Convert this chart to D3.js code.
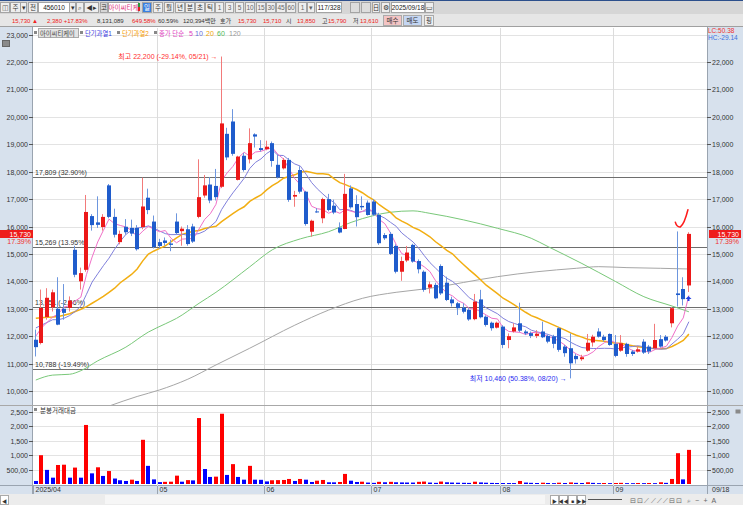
<!DOCTYPE html>
<html>
<head>
<meta charset="utf-8">
<script src="https://d3js.org/d3.v7.min.js"></script>
<style>
body { margin: 0; background: #fff; }
svg { display: block; font-family: "Liberation Sans", "Noto Sans CJK KR", sans-serif; }
</style>
</head>
<body>
<script>
var width = 743, height = 505;

// daily candles, 2025/04/01 .. 2025/09/18 (117 trading days)
var opens  = [11870,11750,12700,13050,13000,13000,13030,15150,14000,14420,16380,16150,15980,17500,16350,15430,15990,15950,15950,15980,
              17050,16180,15430,15490,15380,16180,15830,15900,16000,16350,17130,17530,17480,17450,19380,19830,17700,18580,18450,19360,
              18860,18820,19040,18250,18120,18430,17090,18060,17270,15810,16550,16300,17000,16760,15960,15910,17390,16820,16750,16870,
              16910,16420,15690,15730,15290,14350,14760,15330,14740,14350,13770,13870,14560,13950,13340,13200,13040,12960,12620,13340,
              12710,12490,12310,12350,11860,12170,12470,12170,12110,12010,12170,12010,11990,12290,11620,11560,11280,11160,11470,11770,
              12170,11980,12080,11720,11470,11720,11440,11440,11800,11620,11560,11890,11980,12470,13560,13720,13850];
var highs  = [12240,13700,13750,13700,14150,13900,13450,15300,14500,17150,16450,17100,16450,17550,16650,15850,16270,16250,16050,17780,
              17380,16400,15550,15600,15520,16480,16000,16050,16100,18450,17880,17800,18100,22200,19600,20280,18580,18680,19580,19400,
              19150,19130,19100,18630,18500,18500,17300,18200,17300,16250,16670,17050,17190,16980,16150,17920,17500,17140,17100,16950,
              17000,16500,15760,15800,15350,14900,15290,15370,14800,14400,13990,13950,14620,14170,13440,13250,13200,13020,13540,13690,
              12760,12530,12530,12400,12100,12470,13220,12230,12170,12220,12530,12050,12050,12330,11680,12100,11350,11320,12080,12050,
              12290,12050,12100,12040,12040,11760,11500,11620,11890,11680,12450,12040,12040,13060,15820,14150,15790];
var lows   = [11260,11700,12600,12900,12400,12600,12900,14150,13700,14350,15850,15950,15850,16300,15600,15350,15700,15650,15120,15900,
              16450,15200,15200,15300,15100,15700,15300,15300,15400,16300,17050,16850,16950,17400,18420,18580,17680,18000,18300,18880,
              18730,18780,18180,17750,18080,16900,16720,17200,16030,15630,16500,16120,16550,16450,15750,15900,16650,16000,16600,16400,
              16380,15330,15510,14960,14290,14020,14700,14680,14290,13620,13560,13350,13500,13280,13080,12770,12830,12560,12580,12650,
              12350,12200,12280,11560,11560,12130,12150,12040,11930,11930,11930,11740,11560,11430,11250,10460,11000,11100,11430,11620,
              11950,11800,11650,11230,11430,11250,11280,11400,11350,11350,11520,11580,11800,12320,13080,13120,13610];
var closes = [11600,13030,13400,13600,12420,12850,13300,14240,14300,16530,16050,16060,16350,16350,15700,15730,15790,15740,15170,16730,
              16600,15250,15290,15400,15330,15760,15920,15360,15450,17070,17500,16950,17070,19760,18520,18650,18550,18060,19040,19280,
              18790,18910,18390,17790,18430,16970,17150,17270,16090,16210,16520,17000,16600,16510,15780,17190,16700,16340,16700,16420,
              16430,15390,15570,15000,14350,14740,15050,14720,14440,13690,13890,13380,13560,13320,13200,13020,12890,12610,13260,12690,
              12410,12290,12490,11680,12000,12320,12200,12100,12010,12090,11960,11800,11720,11500,11380,11010,11160,11230,11760,11980,
              11980,11860,11680,11280,11740,11350,11350,11520,11400,11440,11860,11620,11840,13020,13500,13350,15730];
// 거래대금 (pane 2)
var volumes = [105,1000,490,220,660,670,220,570,220,2050,370,580,280,450,190,130,105,150,105,1535,
               630,160,65,75,80,290,80,135,125,2290,520,245,255,2440,315,690,245,150,630,150,
               145,90,130,135,140,175,105,175,150,70,115,140,60,58,70,350,115,70,80,50,
               40,75,60,75,60,55,52,50,75,85,50,40,85,60,50,45,42,38,80,55,
               45,38,35,34,33,32,105,50,40,35,45,35,30,45,35,55,40,35,60,40,
               30,35,30,35,40,30,28,35,30,35,30,60,40,175,1070,160,1185];

// first values of the short averages (their window starts before April)
var ma5Head = [12000,12300,12500,12700];
var ma10Head = [12300,12400,12500,12600,12600,12650,12750,12900,13100];
var ma20Head = [12650,12670,12690,12700,12720,12760,12820,12900,12980,13080,13200,13320,13450,13600,13750,13950,14100,14250,14450];
// moving averages 60 / 120 (index, value)
var ma60pts = [[0,10400],[3,10580],[6,10610],[8,10740],[11,11100],[16,11600],[20,12150],[23,12450],[25,12650],[29,13200],
               [32,13600],[38,14530],[42,15150],[47,15550],[52,15810],[56,16150],[60,16400],[63,16520],[67,16570],[70,16480],
               [76,16240],[82,15935],[88,15570],[91,15265],[97,14650],[103,13990],[108,13440],[113,13100],[116,12890]];
var ma120pts = [[13,9450],[18,9800],[22,10040],[27,10430],[32,10950],[38,11560],[46,12400],[52,12950],[58,13380],[64,13600],
                [70,13745],[76,13960],[82,14170],[89,14350],[96,14475],[100,14535],[105,14500],[111,14475],[116,14450]];

var priceTicks = [23000,22000,21000,20000,19000,18000,17000,16000,15000,14000,13000,12000,11000,10000];
var volTicks = [2500,2000,1500,1000,500];
var volTickLabels = ["2,500","2,000","1,500","1,000","500,00"];
var monthTicks = [[0,"2025/04"],[22,"05"],[41,"06"],[60,"07"],[83,"08"],[103,"09"]];
var levels = [[17809,"17,809 (32.90%)"],[15269,"15,269 (13.95%)"],[13051,"13,051 (-2.66%)"],[10788,"10,788 (-19.49%)"]];

var data = opens.map(function(o, i) {
  return {i: i, o: o, h: highs[i], l: lows[i], c: closes[i], v: volumes[i]};
});

var svg = d3.select('body').append('svg').attr('width', width).attr('height', height);

var L = 33, R = 707;
var x = d3.scaleLinear().domain([0, 116]).range([35.8, 688.9]);
var y = d3.scaleLinear().domain([10000, 22000]).range([391, 62]);
var yv = d3.scaleLinear().domain([0, 2500]).range([484, 412]);

var RED = '#ec1818', BLUE = '#1f5ccc', AXBG = '#d7e1ed';
var RED_W = '#f27a7a', BLUE_W = '#6d96de';

var defs = svg.append('defs');
defs.append('clipPath').attr('id', 'cp').append('rect').attr('x', L).attr('y', 28).attr('width', R - L).attr('height', 377);
defs.append('clipPath').attr('id', 'cv').append('rect').attr('x', L).attr('y', 406).attr('width', R - L).attr('height', 79);

// backgrounds
svg.append('rect').attr('width', width).attr('height', height).attr('fill', '#fff');
svg.append('rect').attr('x', 0).attr('y', 27).attr('width', L).attr('height', 459).attr('fill', AXBG);
svg.append('rect').attr('x', R).attr('y', 27).attr('width', width - R).attr('height', 459).attr('fill', AXBG);
svg.append('rect').attr('x', 0).attr('y', 485).attr('width', width).attr('height', 9).attr('fill', AXBG);
svg.append('line').attr('x1', 0).attr('x2', width).attr('y1', 485.5).attr('y2', 485.5).attr('stroke', '#9aa4b0');
svg.append('line').attr('x1', L - 0.5).attr('x2', L - 0.5).attr('y1', 27).attr('y2', 494).attr('stroke', '#9aa4b0');
svg.append('line').attr('x1', R + 0.5).attr('x2', R + 0.5).attr('y1', 27).attr('y2', 494).attr('stroke', '#9aa4b0');

// grid
var grid = svg.append('g');
grid.selectAll('line.hp').data(priceTicks).join('line')
  .attr('x1', L).attr('x2', R)
  .attr('y1', function(d) { return Math.round(y(d)) + 0.5; })
  .attr('y2', function(d) { return Math.round(y(d)) + 0.5; })
  .attr('stroke', '#e3e3e3');
grid.selectAll('line.hv').data(volTicks).join('line')
  .attr('x1', L).attr('x2', R)
  .attr('y1', function(d) { return Math.round(yv(d)) + 0.5; })
  .attr('y2', function(d) { return Math.round(yv(d)) + 0.5; })
  .attr('stroke', '#e3e3e3');
grid.selectAll('line.vm').data(monthTicks.slice(1)).join('line')
  .attr('x1', function(d) { return Math.round(x(d[0] - 0.5)) + 0.5; })
  .attr('x2', function(d) { return Math.round(x(d[0] - 0.5)) + 0.5; })
  .attr('y1', 28).attr('y2', 494)
  .attr('stroke', '#dcdcdc');

// pane separator
svg.append('line').attr('x1', 0).attr('x2', width).attr('y1', 405.5).attr('y2', 405.5).attr('stroke', '#a8a8a8');

// level lines
var lv = svg.append('g').attr('clip-path', 'url(#cp)');
lv.selectAll('line').data(levels).join('line')
  .attr('x1', L).attr('x2', R)
  .attr('y1', function(d) { return Math.round(y(d[0])) + 0.5; })
  .attr('y2', function(d) { return Math.round(y(d[0])) + 0.5; })
  .attr('stroke', '#6e6e6e');
lv.selectAll('text').data(levels).join('text')
  .attr('x', 35).attr('y', function(d) { return y(d[0]) - 2; })
  .attr('font-size', 7).attr('fill', '#333')
  .text(function(d) { return d[1]; });

// moving averages
function sma(arr, n, head) {
  return arr.map(function(_, i) {
    if (i < head.length) return head[i];
    return d3.mean(arr.slice(i - n + 1, i + 1));
  });
}
var ma5 = sma(closes, 5, ma5Head), ma10 = sma(closes, 10, ma10Head), ma20 = sma(closes, 20, ma20Head);
var line = d3.line().x(function(d, i) { return x(i); }).y(function(d) { return y(d); });
var lineP = d3.line().curve(d3.curveMonotoneX).x(function(d) { return x(d[0]); }).y(function(d) { return y(d[1]); });
var maG = svg.append('g').attr('clip-path', 'url(#cp)').attr('fill', 'none');
maG.append('path').attr('d', lineP(ma120pts)).attr('stroke', '#a6a6a6').attr('stroke-width', 1);
maG.append('path').attr('d', lineP(ma60pts)).attr('stroke', '#79c879').attr('stroke-width', 1);
maG.append('path').attr('d', line(ma20)).attr('stroke', '#f2ae12').attr('stroke-width', 1.5);
maG.append('path').attr('d', line(ma10)).attr('stroke', '#8080dc').attr('stroke-width', 1);
maG.append('path').attr('d', line(ma5)).attr('stroke', '#f070c8').attr('stroke-width', 1);

// candles
var cg = svg.append('g').attr('clip-path', 'url(#cp)');
function up(d) { return d.c >= d.o; }
cg.selectAll('line').data(data).join('line')
  .attr('x1', function(d) { return Math.round(x(d.i)) - 0.5; })
  .attr('x2', function(d) { return Math.round(x(d.i)) - 0.5; })
  .attr('y1', function(d) { return y(d.h); })
  .attr('y2', function(d) { return y(d.l); })
  .attr('stroke', function(d) { return up(d) ? RED_W : BLUE_W; });
cg.selectAll('rect').data(data).join('rect')
  .attr('x', function(d) { return Math.round(x(d.i)) - 2; })
  .attr('width', 4)
  .attr('y', function(d) { return y(Math.max(d.o, d.c)); })
  .attr('height', function(d) { return Math.max(1, Math.abs(y(d.o) - y(d.c))); })
  .attr('fill', function(d) { return up(d) ? RED : BLUE; });

// volume
var vg = svg.append('g').attr('clip-path', 'url(#cv)');
vg.selectAll('rect').data(data).join('rect')
  .attr('x', function(d) { return Math.round(x(d.i)) - 2; })
  .attr('width', 4)
  .attr('y', function(d) { return yv(d.v); })
  .attr('height', function(d) { return yv(0) - yv(d.v); })
  .attr('fill', function(d) { return (d.i === 0 || d.v < volumes[d.i - 1]) ? '#0000ff' : '#ff0000'; });

// axes
function axisLabels(sel, ticks, labels, scale, skipRight) {
  ticks.forEach(function(t, k) {
    var yy = Math.round(scale(t)) + 0.5;
    sel.append('line').attr('x1', L - 4).attr('x2', L).attr('y1', yy).attr('y2', yy).attr('stroke', '#555');
    sel.append('text').attr('x', L - 5).attr('y', yy + 2.5).attr('text-anchor', 'end').text(labels[k]);
    if (skipRight && t === skipRight) return;
    sel.append('line').attr('x1', R).attr('x2', R + 4).attr('y1', yy).attr('y2', yy).attr('stroke', '#555');
    sel.append('text').attr('x', R + 5).attr('y', yy + 2.5).text(labels[k]);
  });
}
var ax = svg.append('g').attr('font-size', 7).attr('fill', '#333');
axisLabels(ax, priceTicks, priceTicks.map(d3.format(',')), y, 23000);
axisLabels(ax, volTicks, volTickLabels, yv);

// x axis
var xa = svg.append('g').attr('font-size', 7).attr('fill', '#333');
monthTicks.forEach(function(m) {
  var xx = Math.round(x(m[0] - 0.5)) + 0.5;
  xa.append('line').attr('x1', xx).attr('x2', xx).attr('y1', 486).attr('y2', 494).attr('stroke', '#9aa4b0');
  xa.append('text').attr('x', xx + 2).attr('y', 492).text(m[1]);
});
xa.append('text').attr('x', R + 5).attr('y', 492).text('09/18');

// legends
var lg = svg.append('g').attr('font-size', 6.3);
lg.append('rect').attr('x', 34).attr('y', 31).attr('width', 3).attr('height', 3).attr('fill', '#888');
lg.append('rect').attr('x', 38.5).attr('y', 28.5).attr('width', 40).attr('height', 9).attr('fill', '#e4e4e4').attr('stroke', '#aaa');
lg.append('text').attr('x', 40).attr('y', 35.5).attr('fill', '#444').text('아이씨티케이');
var legItems = [[80, '단기과열1', '#3a3ae0', true], [117, '단기과열2', '#f59a00', true], [154, '종가 단순', '#e040c0', true],
                [189, '5', '#e040c0'], [195, '10', '#6a6ad8'], [206, '20', '#f2a600'], [217, '60', '#52b852'], [229, '120', '#999']];
legItems.forEach(function(it) {
  if (it[3]) {
    lg.append('rect').attr('x', it[0]).attr('y', 31).attr('width', 3).attr('height', 3).attr('fill', '#888');
    lg.append('text').attr('x', it[0] + 5).attr('y', 35.5).attr('fill', it[2]).text(it[1]);
  } else {
    lg.append('text').attr('x', it[0]).attr('y', 35.5).attr('font-size', 7).attr('fill', it[2]).text(it[1]);
  }
});
svg.append('rect').attr('x', 34).attr('y', 408).attr('width', 3).attr('height', 3).attr('fill', '#888');
svg.append('text').attr('x', 40).attr('y', 412.5).attr('font-size', 6.5).attr('fill', '#333').text('분봉거래대금');

// high / low annotations
var iHi = d3.maxIndex(highs), iLo = d3.minIndex(lows);
var an = svg.append('g').attr('font-size', 7);
an.append('text').attr('x', x(iHi) - 4).attr('y', y(highs[iHi]) + 2.5).attr('text-anchor', 'end').attr('fill', '#ff3030')
  .text('최고 22,200 (-29.14%, 05/21) →');
an.append('text').attr('x', x(iLo) - 4).attr('y', y(lows[iLo]) + 2.5).attr('text-anchor', 'end').attr('fill', '#2a2af0')
  .text('최저 10,460 (50.38%, 08/20) →');

// LC / HC
svg.append('text').attr('x', 708).attr('y', 33).attr('font-size', 6.5).attr('fill', '#f03030').text('LC:50.38');
svg.append('text').attr('x', 708).attr('y', 39.5).attr('font-size', 6.5).attr('fill', '#3a70e0').text('HC:-29.14');

// current price tags
var last = closes[closes.length - 1], yl = Math.round(y(last));
[[0, L], [R + 2, width - R - 4]].forEach(function(p) {
  svg.append('rect').attr('x', p[0]).attr('y', yl - 4).attr('width', p[1]).attr('height', 8).attr('fill', '#ee1c1c');
  svg.append('text').attr('x', p[0] + p[1] - 2).attr('y', yl + 2.5).attr('text-anchor', 'end')
    .attr('font-size', 7).attr('fill', '#fff').text('15,730');
  svg.append('text').attr('x', p[0] + p[1] - 2).attr('y', yl + 10).attr('text-anchor', 'end')
    .attr('font-size', 7).attr('fill', '#f03030').text('17.39%');
});

// check mark above the last candles and signal arrow under the last one
var cx0 = x(113.6), cy0 = y(16150);
svg.append('path')
  .attr('d', 'M' + cx0 + ',' + cy0 + ' q1.5,5 5,4.5 q4,-3 7.5,-17')
  .attr('fill', 'none').attr('stroke', '#ff1a1a').attr('stroke-width', 1.6).attr('stroke-linecap', 'round');
var ax0 = Math.round(x(116)) - 0.5, ay0 = y(lows[116]) + 4;
svg.append('path').attr('d', 'M' + (ax0 - 3) + ',' + (ay0 + 3) + 'L' + ax0 + ',' + ay0 + 'L' + (ax0 + 3) + ',' + (ay0 + 3) + 'Z')
  .attr('fill', '#2040e0');
svg.append('rect').attr('x', ax0 - 1).attr('y', ay0 + 3).attr('width', 2).attr('height', 2).attr('fill', '#2040e0');

// small icons on axes
svg.append('rect').attr('x', 2.5).attr('y', 40.5).attr('width', 7).attr('height', 6).attr('fill', '#8a8a8a').attr('stroke', '#666');
svg.append('rect').attr('x', 735.5).attr('y', 409.5).attr('width', 5).attr('height', 4).attr('fill', '#8a8a8a');

// ---- toolbar ----
var tb = svg.append('g').attr('font-size', 6.5);
tb.append('rect').attr('x', 0).attr('y', 0).attr('width', width).attr('height', 14).attr('fill', '#d6d6d6');
tb.append('rect').attr('x', 0).attr('y', 14).attr('width', width).attr('height', 13).attr('fill', '#e6e6e6');
tb.append('line').attr('x1', 0).attr('x2', width).attr('y1', 0.5).attr('y2', 0.5).attr('stroke', '#2c4f8c');
tb.append('line').attr('x1', 0).attr('x2', width).attr('y1', 26.5).attr('y2', 26.5).attr('stroke', '#a0a0a0');
var row1 = [[0, 9, '◫', '#eee', '#555'], [10, 10, '주', '#eee', '#333'], [20, 6, '▾', '#eee', '#333'], [28, 9, '전', '#eee', '#333'],
            [38, 31, '456010', '#fff', '#222'], [69, 6, '▾', '#eee', '#333'], [76, 7, '⌕', '#eee', '#333'], [84, 14, '◀▸', '#eee', '#333'],
            [100, 7, '코', '#d6d6d6', '#333'], [108, 30, '아이씨티케', '#fff', '#e0307a'], [142, 9, '일', '#3b7fe0', '#fff'],
            [153, 9, '주', '#eee', '#333'], [164, 9, '월', '#eee', '#333'], [175, 9, '년', '#eee', '#333'], [185, 9, '분', '#eee', '#333'],
            [195, 9, '초', '#eee', '#333'], [205, 9, '틱', '#eee', '#333'], [215, 8, '1', '#eee', '#666'], [225, 8, '3', '#eee', '#666'],
            [235, 8, '5', '#eee', '#666'], [245, 9, '10', '#eee', '#666'], [256, 9, '15', '#eee', '#666'], [266, 9, '30', '#eee', '#666'],
            [276, 9, '45', '#eee', '#666'], [286, 9, '60', '#eee', '#666'], [298, 8, '1', '#eee', '#666'], [307, 7, '▾', '#eee', '#666'],
            [316, 25, '117/328', '#fff', '#222'], [350, 9, '', '#ddd', '#999'], [361, 9, '', '#ddd', '#999'],
            [372, 7, '日', '#eee', '#333'], [381, 8, '⚙', '#eee', '#333'], [391, 33, '2025/09/18', '#fff', '#222'], [425, 8, '▭', '#eee', '#333']];
row1.forEach(function(b) {
  tb.append('rect').attr('x', b[0] + 0.5).attr('y', 2.5).attr('width', b[1]).attr('height', 10).attr('fill', b[3]).attr('stroke', '#a4a4a4');
  tb.append('text').attr('x', b[0] + b[1] / 2 + 0.5).attr('y', 10.3).attr('text-anchor', 'middle').attr('fill', b[4]).text(b[2]);
});
tb.append('rect').attr('x', 138).attr('y', 3).attr('width', 2).attr('height', 4).attr('fill', '#2a9a3a');
tb.append('rect').attr('x', 138).attr('y', 7).attr('width', 2).attr('height', 4).attr('fill', '#e02020');
var row2 = [[12, '15,730 ▲', '#f02020'], [47, '2,380 +17.83%', '#f02020'], [97, '8,131,089', '#333'], [132, '649.58%', '#f02020'],
            [158, '60.59%', '#333'], [183, '120,394백만', '#333'], [220, '호가', '#333'], [238, '15,730', '#f02020'],
            [263, '15,710', '#f02020'], [286, '시', '#333'], [297, '13,850', '#f02020'], [322, '고', '#333'],
            [328, '15,790', '#f02020'], [353, '저', '#333'], [360, '13,610', '#f02020']];
row2.forEach(function(t) { tb.append('text').attr('x', t[0]).attr('y', 23).attr('font-size', 6).attr('fill', t[2]).text(t[1]); });
tb.append('rect').attr('x', 383.5).attr('y', 15.5).attr('width', 18).attr('height', 10).attr('fill', '#f3c4c4').attr('stroke', '#aaa');
tb.append('text').attr('x', 392.5).attr('y', 23).attr('text-anchor', 'middle').attr('fill', '#333').text('매수');
tb.append('rect').attr('x', 403.5).attr('y', 15.5).attr('width', 18).attr('height', 10).attr('fill', '#c4d6f3').attr('stroke', '#aaa');
tb.append('text').attr('x', 412.5).attr('y', 23).attr('text-anchor', 'middle').attr('fill', '#333').text('매도');
tb.append('rect').attr('x', 424.5).attr('y', 15.5).attr('width', 9).attr('height', 10).attr('fill', '#eee').attr('stroke', '#aaa');
tb.append('text').attr('x', 429).attr('y', 23).attr('text-anchor', 'middle').attr('fill', '#333').text('핑');

// ---- scrollbar ----
var sb = svg.append('g').attr('font-size', 7).attr('fill', '#333');
sb.append('rect').attr('x', 0).attr('y', 494).attr('width', width).attr('height', 11).attr('fill', '#ececec');
sb.append('rect').attr('x', 0.5).attr('y', 495.5).attr('width', 8).attr('height', 9).attr('fill', '#fff').attr('stroke', '#aaa');
sb.append('text').attr('x', 2).attr('y', 502.5).attr('font-size', 5).text('◀');
sb.append('rect').attr('x', 105).attr('y', 495).attr('width', 440).attr('height', 9).attr('fill', '#f6f6f6');
['▶', '◀◀', '■', '▶▶'].forEach(function(s, k) {
  sb.append('rect').attr('x', 550.5 + k * 9).attr('y', 495.5).attr('width', 8).attr('height', 9).attr('fill', '#fff').attr('stroke', '#aaa');
  sb.append('text').attr('x', 554.5 + k * 9).attr('y', 502.5).attr('text-anchor', 'middle').attr('font-size', 5).text(s);
});
sb.append('line').attr('x1', 588).attr('x2', 622).attr('y1', 499.5).attr('y2', 499.5).attr('stroke', '#555');
sb.append('text').attr('x', 630).attr('y', 502.5).attr('fill', '#666').attr('letter-spacing', 1.2).text('⊟⊡⟋⟋⟋⟋⊟⊡ ⌕ − + A');
</script>
</body>
</html>
